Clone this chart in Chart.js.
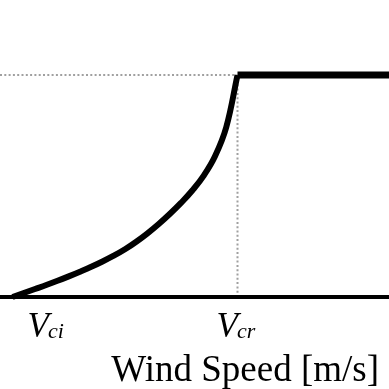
<!DOCTYPE html>
<html>
<head>
<meta charset="utf-8">
<script src="https://cdn.jsdelivr.net/npm/chart.js@4.4.0/dist/chart.umd.min.js"></script>
<style>
  html, body { margin: 0; padding: 0; background: #fff; }
  #wrap { width: 389px; height: 389px; }
</style>
</head>
<body>
<div id="wrap"><canvas id="powerCurve" width="389" height="389"></canvas></div>
<script>
// wind speed range shown (m/s) and the two marked speeds
const speedMin = 2.5;
const speedMax = 18.06;
const cutIn = 3;    // V_ci
const rated = 12;   // V_cr

// power curve (normalised power, 1 = rated)
const curveSpeed = [3.0, 3.45, 3.9, 4.35, 4.8, 5.25, 5.7, 6.15, 6.6, 7.05, 7.5,
                    7.95, 8.4, 8.85, 9.3, 9.75, 10.2, 10.65, 11.1, 11.55, 12.0];
const curvePower = [0.0, 0.018, 0.036, 0.054, 0.073, 0.093, 0.114, 0.136, 0.16, 0.186, 0.215,
                    0.249, 0.287, 0.329, 0.375, 0.425, 0.481, 0.547, 0.634, 0.765, 1.0];

// flat part after rated speed
const ratedSpeed = [12.0, 18.06];
const ratedPower = [1.0, 1.0];

// tick labels under the axis
const tickNames = ['V', 'V'];
const tickSubs = ['ci', 'cr'];
const tickSpeeds = [cutIn, rated];
const axisTitle = 'Wind Speed [m/s]';

const powerMax = 1.338;

function pts(xs, ys) {
  return xs.map((x, i) => ({ x: x, y: ys[i] }));
}

// draws the V_ci / V_cr labels and the axis title
const labelPlugin = {
  id: 'labels',
  afterDraw(chart) {
    const ctx = chart.ctx;
    const x = chart.scales.x;
    const offsets = [15, -21]; // px from the speed value to the left of the V
    ctx.save();
    ctx.fillStyle = '#000';
    ctx.textBaseline = 'alphabetic';
    ctx.textAlign = 'left';
    for (let i = 0; i < tickNames.length; i++) {
      let px = x.getPixelForValue(tickSpeeds[i]) + offsets[i];
      ctx.font = 'italic 35px "Liberation Serif"';
      ctx.fillText(tickNames[i], px, 337);
      let w = ctx.measureText(tickNames[i]).width;
      ctx.font = 'italic 22px "Liberation Serif"';
      ctx.fillText(tickSubs[i], px + w - 1, 338);
    }
    ctx.font = '37px "Liberation Serif"';
    ctx.textAlign = 'right';
    ctx.fillText(axisTitle, 379, 381);
    ctx.restore();
  }
};

new Chart(document.getElementById('powerCurve'), {
  type: 'line',
  data: {
    datasets: [
      {
        label: 'guide-h',
        data: pts([speedMin, rated], [1, 1]),
        borderColor: '#a0a0a0',
        borderWidth: 2,
        borderDash: [2, 2.3],
        pointRadius: 0,
        clip: false,
        order: 3
      },
      {
        label: 'guide-v',
        data: pts([rated, rated], [0, 1]),
        borderColor: '#a0a0a0',
        borderWidth: 2,
        borderDash: [2, 2.3],
        pointRadius: 0,
        clip: false,
        order: 3
      },
      {
        label: 'axis',
        data: pts([speedMin, speedMax], [0, 0]),
        borderColor: '#000',
        borderWidth: 4,
        pointRadius: 0,
        clip: false,
        order: 1
      },
      {
        label: 'curve',
        data: pts(curveSpeed, curvePower),
        borderColor: '#000',
        borderWidth: 6,
        pointRadius: 0,
        tension: 0.4,
        borderCapStyle: 'butt',
        clip: false,
        order: 0
      },
      {
        label: 'rated',
        data: pts(ratedSpeed, ratedPower),
        borderColor: '#000',
        borderWidth: 7,
        pointRadius: 0,
        clip: false,
        order: 0
      }
    ]
  },
  options: {
    responsive: false,
    animation: false,
    events: [],
    layout: { padding: { left: 0, right: 0, top: 0, bottom: 92 } },
    plugins: {
      legend: { display: false },
      tooltip: { enabled: false }
    },
    scales: {
      x: { type: 'linear', min: speedMin, max: speedMax, display: false },
      y: { type: 'linear', min: 0, max: powerMax, display: false }
    }
  },
  plugins: [labelPlugin]
});
</script>
</body>
</html>
